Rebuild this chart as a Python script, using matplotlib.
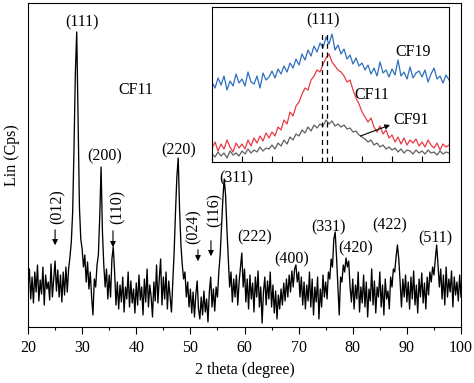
import numpy as np
import matplotlib.pyplot as plt

plt.rcParams['font.family'] = ['Liberation Serif', 'DejaVu Serif']

# main XRD pattern (CF11), 2theta from 20 to 100 in 0.25 steps, intensity in arbitrary units
two_theta = np.arange(20, 100.001, 0.25)
cf11 = [
    40, 58, 28, 50, 24, 55, 35, 62, 26, 47, 33, 60, 22, 52, 38, 45, 27, 63, 30, 48,
    66, 36, 57, 30, 52, 25, 55, 32, 60, 35, 58, 70, 85, 115, 180, 255, 295, 205, 120, 88,
    78, 60, 72, 45, 65, 38, 55, 30, 12, 48, 40, 62, 72, 110, 160, 95, 62, 40, 58, 28,
    52, 30, 68, 80, 55, 22, 45, 18, 42, 25, 50, 15, 40, 28, 55, 20, 46, 24, 38, 14,
    44, 22, 52, 27, 40, 12, 48, 25, 58, 20, 42, 30, 10, 45, 26, 62, 24, 48, 68, 22,
    50, 28, 55, 18, 46, 30, 15, 45, 75, 115, 150, 169, 118, 82, 62, 48, 55, 30, 45, 20,
    38, 14, 35, 10, 32, 46, 18, 8, 30, 12, 36, 15, 28, 5, 35, 50, 20, 38, 16, 40,
    30, 55, 72, 100, 128, 148, 132, 98, 68, 40, 55, 25, 48, 30, 52, 22, 45, 60, 74, 40,
    58, 25, 48, 18, 52, 28, 44, 15, 50, 30, 56, 20, 40, 4, 35, 50, 22, 46, 28, 55,
    20, 42, 14, 36, 8, 32, 18, 38, 22, 44, 26, 48, 30, 52, 35, 56, 40, 58, 62, 45,
    55, 30, 50, 22, 45, 18, 42, 26, 55, 20, 48, 12, 40, 25, 50, 8, 38, 20, 52, 30,
    45, 28, 55, 48, 68, 60, 88, 95, 70, 42, 12, 50, 45, 62, 55, 69, 60, 66, 40, 25,
    48, 18, 42, 28, 55, 15, 40, 24, 52, 20, 45, 10, 38, 26, 58, 22, 46, 14, 40, 30,
    55, 20, 42, 12, 48, 28, 36, 18, 50, 40, 58, 55, 70, 82, 68, 45, 20, 48, 30, 52,
    25, 45, 18, 50, 28, 56, 22, 42, 14, 48, 30, 54, 24, 44, 18, 50, 32, 55, 45, 60,
    52, 68, 82, 62, 40, 58, 28, 52, 22, 60, 30, 48, 35, 56, 20, 50, 32, 45, 26, 52,
    30,
]

# inset: (111) region for the three samples, 0.05 steps
inset_theta = np.arange(27.0, 30.951, 0.05)
cf19_inset = [
    80, 74, 84, 77, 86, 72, 81, 76, 88, 79,
    83, 76, 90, 80, 78, 86, 74, 89, 82, 85,
    91, 84, 93, 88, 96, 90, 99, 94, 103, 97,
    108, 102, 112, 106, 116, 110, 119, 114, 125, 118,
    128, 112, 117, 108, 113, 103, 107, 98, 104, 96,
    99, 92, 97, 88, 94, 86, 100, 89, 92, 85,
    93, 87, 102, 86, 90, 83, 95, 84, 89, 91,
    85, 92, 80, 88, 94, 83, 86, 79, 87, 82,
]
cf11_inset = [
    14, 20, 11, 18, 13, 22, 15, 10, 19, 14,
    18, 13, 22, 16, 24, 19, 26, 21, 29, 24,
    30, 26, 35, 32, 42, 38, 50, 46, 56, 60,
    68, 74, 72, 82, 86, 92, 90, 98, 104, 108,
    100, 96, 92, 90, 86, 80, 82, 72, 64, 58,
    50, 45, 40, 44, 35, 30, 36, 28, 32, 24,
    27, 20, 25, 18, 24, 17, 22, 19, 23, 16,
    20, 15, 22, 17, 14, 19, 12, 18, 15, 17,
]
cf91_inset = [
    8, 5, 10, 6, 9, 4, 11, 7, 9, 6,
    11, 8, 13, 9, 12, 10, 15, 11, 14, 13,
    17, 13, 19, 16, 22, 18, 25, 22, 28, 26,
    32, 29, 35, 31, 37, 34, 38, 36, 42, 38,
    41, 36, 38, 35, 37, 33, 34, 30, 31, 27,
    25, 23, 20, 22, 17, 19, 15, 17, 13, 15,
    12, 14, 10, 13, 9, 12, 11, 8, 12, 9,
    11, 8, 12, 9, 10, 7, 11, 8, 10, 9,
]

peak_labels = ['(111)', '(200)', '(220)', '(311)', '(222)', '(400)', '(331)', '(420)', '(422)', '(511)']
peak_label_pos = [(29.98, 305), (34.23, 171), (47.9, 177), (58.43, 149), (61.94, 90),
                  (68.78, 68), (75.43, 100), (80.6, 79), (86.88, 102), (95.2, 89)]

# secondary phase reflections marked with arrows
minor_labels = ['(012)', '(110)', '(024)', '(116)']
minor_text_pos = [(25.5, 120), (36.6, 120), (50.67, 100), (54.55, 117)]
minor_arrow_x = [25.0, 35.7, 51.4, 53.8]
minor_arrow_y = [(100, 79), (99, 77), (80, 63), (89, 68)]

fs = 11.5

fig = plt.figure(figsize=(4.74, 3.83), dpi=100)
ax = fig.add_axes([0.0591, 0.1462, 0.9135, 0.846])
ax.plot(two_theta, cf11, color='black', lw=0.95)
ax.set_xlim(20, 100)
ax.set_ylim(0, 324)
ax.set_yticks([])
ax.set_xticks(np.arange(20, 101, 10))
ax.set_xticks(np.arange(25, 100, 10), minor=True)
ax.tick_params(axis='x', which='major', direction='out', length=5, width=0.8, labelsize=fs, pad=4)
ax.tick_params(axis='x', which='minor', direction='out', length=2.5, width=0.8)
ax.set_xlabel('2 theta (degree)', fontsize=fs, labelpad=5)
ax.set_ylabel('Lin (Cps)', fontsize=fs)
ax.yaxis.set_label_coords(-0.019, 0.53)
for s in ax.spines.values():
    s.set_linewidth(0.8)

for lab, (x, y) in zip(peak_labels, peak_label_pos):
    ax.text(x, y, lab, fontsize=fs, ha='center', va='center')
ax.text(39.95, 237, 'CF11', fontsize=fs, ha='center', va='center')

for lab, (x, y), ax_x, (y0, y1) in zip(minor_labels, minor_text_pos, minor_arrow_x, minor_arrow_y):
    ax.text(x, y, lab, fontsize=fs, ha='center', va='center', rotation=90)
    ax.annotate('', xy=(ax_x, y1), xytext=(ax_x, y0),
                arrowprops=dict(arrowstyle='-|>', color='black', lw=0.8, mutation_scale=8))

# inset
ins = fig.add_axes([0.4473, 0.577, 0.5, 0.4047])
ins.plot(inset_theta, cf19_inset, color='#2e6fbf', lw=0.9)
ins.plot(inset_theta, cf11_inset, color='#e83a44', lw=0.9)
ins.plot(inset_theta, cf91_inset, color='#606060', lw=0.9)
ins.vlines([28.83, 28.92], 0, 129, colors='black', linestyles=(0, (4, 3)), lw=0.9)
ins.set_xlim(27.0, 30.95)
ins.set_ylim(0, 155)
ins.set_yticks([])
ins.set_xticks(np.arange(27.0, 30.9, 0.5))
ins.tick_params(axis='x', direction='in', length=4, width=0.8, labelbottom=False)
for s in ins.spines.values():
    s.set_linewidth(0.8)
ins.text(28.85, 142, '(111)', fontsize=fs, ha='center', va='center')
ins.text(30.35, 110, 'CF19', fontsize=fs, ha='center', va='center')
ins.text(29.67, 67, 'CF11', fontsize=fs, ha='center', va='center')
ins.text(30.02, 42, 'CF91', fontsize=fs, ha='left', va='center')
ins.annotate('', xy=(30.01, 38), xytext=(29.43, 25),
             arrowprops=dict(arrowstyle='-|>', color='black', lw=0.8, mutation_scale=7))

plt.savefig('out.png', dpi=100)
